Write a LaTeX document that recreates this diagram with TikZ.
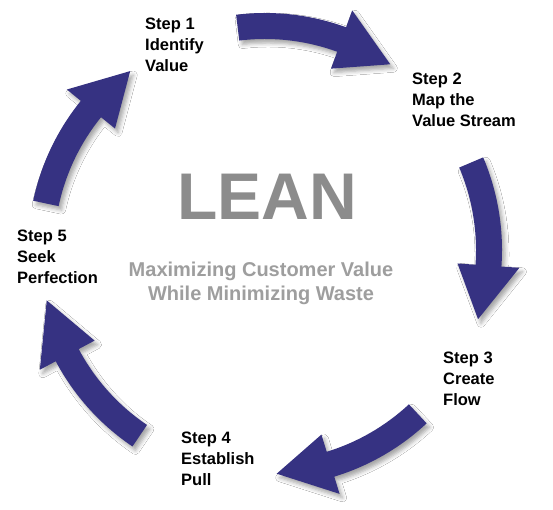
\documentclass[tikz,border=0pt]{standalone}
\usepackage{fontspec}
\setmainfont{Liberation Sans}
\usetikzlibrary{shadows.blur}
\definecolor{leanblue}{RGB}{54,50,130}
\definecolor{leangray}{RGB}{140,140,140}
\definecolor{mottogray}{RGB}{158,158,158}
\tikzset{
  steplabel/.style={anchor=north west, align=left, inner sep=0pt,
    font=\fontsize{16.5}{21}\selectfont\bfseries},
  cyclearrow/.style={fill=leanblue, blur shadow={shadow xshift=3pt,
    shadow yshift=-4pt, shadow blur radius=4pt, shadow opacity=35}},
}

\begin{document}
\begin{tikzpicture}[x=1pt, y=1pt]
  \fill[white] (0,0) rectangle (553,509);
  \useasboundingbox (0,0) rectangle (553,509);
  \coordinate (C) at (265,259);

  % Curved arrows round the circle (tail / head base / tip angles)
  \foreach \ta/\hb/\tp in {97/70/56, 23/-4/-18, -47/-73/-87, -124/-152/-167, 168/141/127}
  \fill[cyclearrow, shift={(C)}] (\ta:237) arc[start angle=\ta, end angle=\hb, radius=237pt]
    -- (\hb:255) -- (\tp:224) -- (\hb:193) -- (\hb:211)
    arc[start angle=\hb, end angle=\ta, radius=211pt] -- cycle;

  % Title and motto in the middle
  \node[font=\fontsize{66}{66}\selectfont\bfseries, text=leangray, inner sep=0pt] (lean) at (267,312) {LEAN};
  \node[anchor=north, align=center, inner sep=0pt, text=mottogray,
    font=\fontsize{20}{24}\selectfont\bfseries] (motto) at (261,247)
    {Maximizing Customer Value\\While Minimizing Waste};

  % Step labels
  \foreach \name/\pos/\txt in {stepone/{145,491}/{Step 1\\Identify\\Value},
      steptwo/{412,436}/{Step 2\\Map the\\Value Stream},
      stepthree/{443,157}/{Step 3\\Create\\Flow},
      stepfour/{181,77}/{Step 4\\Establish\\Pull},
      stepfive/{17,279}/{Step 5\\Seek\\Perfection}}
  \node[steplabel] (\name) at (\pos) {\txt};
\end{tikzpicture}
\end{document}
